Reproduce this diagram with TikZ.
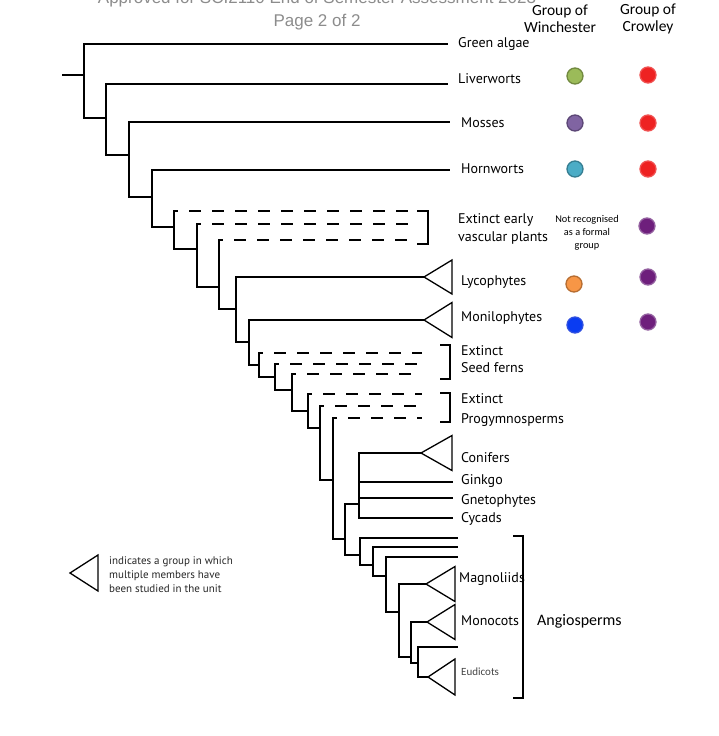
\documentclass[tikz,border=0pt]{standalone}
\usepackage{fontspec}
\setmainfont{PT Sans}
\newfontfamily\calib{Carlito}
\newfontfamily\helv{Liberation Sans}
\definecolor{hdrgray}{HTML}{8C8C8C}
\definecolor{wgreen}{HTML}{9BBB59}\definecolor{wgreenD}{HTML}{71893F}
\definecolor{wpurple}{HTML}{8064A2}\definecolor{wpurpleD}{HTML}{5C4776}
\definecolor{waqua}{HTML}{4BACC6}\definecolor{waquaD}{HTML}{357D91}
\definecolor{worange}{HTML}{F79646}\definecolor{worangeD}{HTML}{B66D31}
\definecolor{wblue}{HTML}{0A3CF2}\definecolor{wblueD}{HTML}{3050E0}
\definecolor{cred}{HTML}{EE2222}\definecolor{credD}{HTML}{F05050}
\definecolor{cpurp}{HTML}{6E1F7C}\definecolor{cpurpD}{HTML}{9460A0}
\definecolor{eudgray}{HTML}{444444}
\begin{document}
\begin{tikzpicture}[x=1pt,y=-1pt,
  br/.style={line width=1.3pt, line cap=rect},
  ds/.style={line width=1.3pt, dash pattern=on 12pt off 11pt, dash phase=8pt},
  tri/.style={line width=1.3pt, line join=miter},
  lab/.style={anchor=west, inner sep=0pt, font=\fontsize{14}{17.5}\selectfont},
  hdr/.style={font=\calib\fontsize{15.5}{17}\selectfont, align=center, inner sep=0pt},
  dot/.style={circle, minimum size=16pt, inner sep=0pt, line width=1.3pt}]
\useasboundingbox (0,0) rectangle (719,736);

% ---- header (cut at the top, as in the page) ----
\begin{scope}
\clip (0,0) rectangle (719,736);
\node[anchor=base, inner sep=0pt, text=hdrgray, font=\helv\fontsize{17}{20}\selectfont] (hd1) at (317,4) {Approved for SCI2110 End of Semester Assessment 2023};
\node[anchor=base, inner sep=0pt, text=hdrgray, font=\helv\fontsize{17}{20}\selectfont] (hd2) at (317,26) {Page 2 of 2};
\end{scope}

\node[hdr] (hw) at (560,19) {Group of\\Winchester};
\node[hdr] (hc) at (648,19) {Group of\\Crowley};

% ---- tree coordinates ----
\coordinate (r0) at (63,75);  \coordinate (A) at (84,75);
\coordinate (At) at (84,44);  \coordinate (Ab) at (84,118);
\coordinate (Bs) at (106,118);\coordinate (Bt) at (106,84);  \coordinate (Bb) at (106,155);
\coordinate (Cs) at (129,155);\coordinate (Ct) at (129,122); \coordinate (Cb) at (129,197);
\coordinate (Ds) at (152,197);\coordinate (Dt) at (152,170); \coordinate (Db) at (152,227);
\coordinate (Es) at (174,227);\coordinate (Et) at (174,211); \coordinate (Eb) at (174,249);
\coordinate (Fs) at (197,249);\coordinate (Ft) at (197,224); \coordinate (Fb) at (197,287);
\coordinate (Gs) at (219,287);\coordinate (Gt) at (219,240); \coordinate (Gb) at (219,309);
\coordinate (Hs) at (236,309);\coordinate (Ht) at (236,277); \coordinate (Hb) at (236,342);
\coordinate (Is) at (249,342);\coordinate (It) at (249,320); \coordinate (Ib) at (249,365);
\coordinate (Js) at (259,365);\coordinate (Jt) at (259,353); \coordinate (Jb) at (259,377);
\coordinate (Ks) at (275,377);\coordinate (Kt) at (275,364); \coordinate (Kb) at (275,390);
\coordinate (Ls) at (292,390);\coordinate (Lt) at (292,374); \coordinate (Lb) at (292,411);
\coordinate (Ms) at (308,411);\coordinate (Mt) at (308,394); \coordinate (Mb) at (308,428);
\coordinate (Ns) at (320,428);\coordinate (Nt) at (320,406); \coordinate (Nb) at (320,480);
\coordinate (Os) at (333,480);\coordinate (Ot) at (333,418); \coordinate (Ob) at (333,539);
\coordinate (Ps) at (345,539);\coordinate (Pt) at (345,504); \coordinate (Pb) at (345,555);
\coordinate (Qs) at (359,504);\coordinate (Qt) at (359,453); \coordinate (Qb) at (359,518);
\coordinate (Qg) at (359,482);\coordinate (Qn) at (359,498);
\coordinate (Rs) at (360,555);\coordinate (Rt) at (360,538); \coordinate (Rb) at (360,565);
\coordinate (Ss) at (373,565);\coordinate (St) at (373,547); \coordinate (Sb) at (373,576);
\coordinate (Ts) at (386,576);\coordinate (Tt) at (386,557); \coordinate (Tb) at (386,612);
\coordinate (Us) at (399,612);\coordinate (Ut) at (399,584); \coordinate (Ub) at (399,657);
\coordinate (Vs) at (411,657);\coordinate (Vt) at (411,622); \coordinate (Vb) at (411,663);
\coordinate (Ws) at (418,663);\coordinate (Wt) at (418,647); \coordinate (Wb) at (418,677);

% leaf ends
\coordinate (eGA) at (447,44);  \coordinate (eLi) at (447,84);
\coordinate (eMo) at (449,122); \coordinate (eHo) at (449,170);
\coordinate (eE) at (417,211);  \coordinate (eF) at (417,224); \coordinate (eG) at (417,240);
\coordinate (aLy) at (424,277); \coordinate (aMn) at (424,320);
\coordinate (eJ) at (422,353);  \coordinate (eK) at (422,364); \coordinate (eL) at (422,374);
\coordinate (eM) at (422,394);  \coordinate (eN) at (422,406); \coordinate (eO) at (422,418);
\coordinate (aCo) at (421,453); \coordinate (eGi) at (452,482);
\coordinate (eGn) at (452,498); \coordinate (eCy) at (452,518);
\coordinate (eR) at (457,538);  \coordinate (eS) at (457,547); \coordinate (eT) at (457,557);
\coordinate (aMa) at (426,584); \coordinate (aMc) at (427,622);
\coordinate (eW) at (457,647);  \coordinate (aEu) at (428,677);

% ---- solid branches ----
\draw[br] (r0) -- (A);
\draw[br] (At) -- (Ab); \draw[br] (At) -- (eGA);
\draw[br] (Ab) -- (Bs); \draw[br] (Bt) -- (Bb); \draw[br] (Bt) -- (eLi);
\draw[br] (Bb) -- (Cs); \draw[br] (Ct) -- (Cb); \draw[br] (Ct) -- (eMo);
\draw[br] (Cb) -- (Ds); \draw[br] (Dt) -- (Db); \draw[br] (Dt) -- (eHo);
\draw[br] (Db) -- (Es); \draw[br] (Et) -- (Eb);
\draw[br] (Eb) -- (Fs); \draw[br] (Ft) -- (Fb);
\draw[br] (Fb) -- (Gs); \draw[br] (Gt) -- (Gb);
\draw[br] (Gb) -- (Hs); \draw[br] (Ht) -- (Hb); \draw[br] (Ht) -- (aLy);
\draw[br] (Hb) -- (Is); \draw[br] (It) -- (Ib); \draw[br] (It) -- (aMn);
\draw[br] (Ib) -- (Js); \draw[br] (Jt) -- (Jb);
\draw[br] (Jb) -- (Ks); \draw[br] (Kt) -- (Kb);
\draw[br] (Kb) -- (Ls); \draw[br] (Lt) -- (Lb);
\draw[br] (Lb) -- (Ms); \draw[br] (Mt) -- (Mb);
\draw[br] (Mb) -- (Ns); \draw[br] (Nt) -- (Nb);
\draw[br] (Nb) -- (Os); \draw[br] (Ot) -- (Ob);
\draw[br] (Ob) -- (Ps); \draw[br] (Pt) -- (Pb);
\draw[br] (Pt) -- (Qs); \draw[br] (Qt) -- (Qb);
\draw[br] (Qt) -- (aCo); \draw[br] (Qg) -- (eGi); \draw[br] (Qn) -- (eGn); \draw[br] (Qb) -- (eCy);
\draw[br] (Pb) -- (Rs); \draw[br] (Rt) -- (Rb); \draw[br] (Rt) -- (eR);
\draw[br] (Rb) -- (Ss); \draw[br] (St) -- (Sb); \draw[br] (St) -- (eS);
\draw[br] (Sb) -- (Ts); \draw[br] (Tt) -- (Tb); \draw[br] (Tt) -- (eT);
\draw[br] (Tb) -- (Us); \draw[br] (Ut) -- (Ub); \draw[br] (Ut) -- (aMa);
\draw[br] (Ub) -- (Vs); \draw[br] (Vt) -- (Vb); \draw[br] (Vt) -- (aMc);
\draw[br] (Vb) -- (Ws); \draw[br] (Wt) -- (Wb); \draw[br] (Wt) -- (eW); \draw[br] (Wb) -- (aEu);

% ---- dashed (extinct) branches ----
\draw[ds] (Et) -- (eE); \draw[ds] (Ft) -- (eF); \draw[ds] (Gt) -- (eG);
\draw[ds] (Jt) -- (eJ); \draw[ds] (Kt) -- (eK); \draw[ds] (Lt) -- (eL);
\draw[ds] (Mt) -- (eM); \draw[ds] (Nt) -- (eN); \draw[ds] (Ot) -- (eO);

% ---- brackets ----
\draw[br, line cap=butt] (417,211) -- (428,211) -- (428,244) -- (417,244);
\draw[br, line cap=butt] (440,345) -- (450,345) -- (450,379) -- (440,379);
\draw[br, line cap=butt] (440,393) -- (450,393) -- (450,422) -- (440,422);
\draw[br, line cap=butt] (513,536) -- (523,536) -- (523,698) -- (513,698);

% ---- triangles ----
\draw[tri] (aLy) -- ++(28,-17) -- ++(0,34) -- cycle;
\draw[tri] (aMn) -- ++(28,-17.5) -- ++(0,35) -- cycle;
\draw[tri] (aCo) -- ++(31,-17.5) -- ++(0,35) -- cycle;
\draw[tri] (aMa) -- ++(29,-17.5) -- ++(0,35) -- cycle;
\draw[tri] (aMc) -- ++(28,-17.5) -- ++(0,35) -- cycle;
\draw[tri] (aEu) -- ++(27,-18) -- ++(0,36) -- cycle;

% ---- labels ----
\node[lab] (lGA) at (458,44) {Green algae};
\node[lab] (lLi) at (458,79) {Liverworts};
\node[lab] (lMo) at (461,123) {Mosses};
\node[lab] (lHo) at (461,169) {Hornworts};
\node[lab, align=left] (lEV) at (458,229) {Extinct early\\vascular plants};
\node[lab] (lLy) at (461,282) {Lycophytes};
\node[lab] (lMn) at (461,318) {Monilophytes};
\node[lab, align=left] (lSF) at (461,359) {Extinct\\Seed ferns};
\node[lab, align=left] (lPG) at (461,410) {Extinct\\[3pt]Progymnosperms};
\node[lab] (lCo) at (461,458) {Conifers};
\node[lab] (lGi) at (461,481) {Ginkgo};
\node[lab] (lGn) at (461,501) {Gnetophytes};
\node[lab] (lCy) at (461,519) {Cycads};
\node[lab] (lMa) at (459,579) {Magnoliids};
\node[lab] (lMc) at (461,621) {Monocots};
\node[anchor=west, inner sep=0pt, text=eudgray, font=\calib\fontsize{11}{13}\selectfont] (lEu) at (461,672) {Eudicots};
\node[anchor=west, inner sep=0pt, font=\calib\fontsize{16}{18}\selectfont] (lAn) at (537,621) {Angiosperms};

\node[align=center, inner sep=0pt, font=\calib\fontsize{10.3}{13}\selectfont] (nr) at (587,233) {Not recognised\\as a formal\\group};

% ---- coloured dots ----
\node[dot, fill=wgreen, draw=wgreenD] (w1) at (575,76) {};
\node[dot, fill=wpurple, draw=wpurpleD] (w2) at (575,123) {};
\node[dot, fill=waqua, draw=waquaD] (w3) at (575,169) {};
\node[dot, fill=worange, draw=worangeD] (w4) at (574,284) {};
\node[dot, fill=wblue, draw=wblueD] (w5) at (575,325) {};
\node[dot, fill=cred, draw=credD] (c1) at (648,75) {};
\node[dot, fill=cred, draw=credD] (c2) at (648,123) {};
\node[dot, fill=cred, draw=credD] (c3) at (648,169) {};
\node[dot, fill=cpurp, draw=cpurpD] (c4) at (647,226) {};
\node[dot, fill=cpurp, draw=cpurpD] (c5) at (648,277) {};
\node[dot, fill=cpurp, draw=cpurpD] (c6) at (648,322) {};

% ---- legend ----
\coordinate (lgA) at (70,573);
\draw[tri] (lgA) -- ++(28,-18) -- ++(0,36) -- cycle;
\node[anchor=west, align=left, inner sep=0pt, text=black!85, font=\fontsize{11}{14}\selectfont] (lgT) at (109,575) {indicates a group in which\\multiple members have\\been studied in the unit};
\end{tikzpicture}
\end{document}
